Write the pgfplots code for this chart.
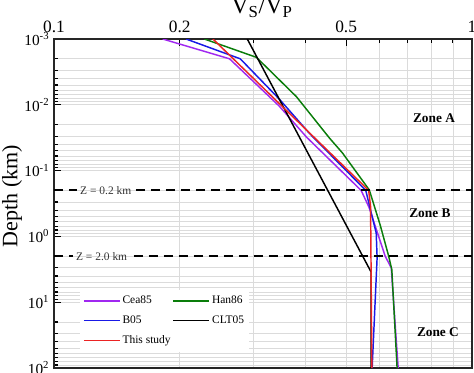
\documentclass[border=0pt]{standalone}
\usepackage{fontspec}
\setmainfont{Liberation Serif}
\usepackage{pgfplots}
\pgfplotsset{compat=1.18}
\definecolor{cpurple}{RGB}{160,40,240}
\definecolor{cblue}{RGB}{25,25,230}
\definecolor{cgreen}{RGB}{10,125,10}
\definecolor{cred}{RGB}{235,35,35}
\begin{document}
\begin{tikzpicture}
\begin{axis}[name=ax, at={(0pt,0pt)}, anchor=south west, scale only axis,
  width=313.5pt, height=246.75pt,
  xmode=log, ymode=log, y dir=reverse,
  xmin=0.1, xmax=1, ymin=1e-3, ymax=1e2,
  xtick={0.1,0.2,0.5,1}, xticklabels={0.1,0.2,0.5,1},
  minor xtick={0.3,0.4,0.6,0.7,0.8,0.9},
  ytick={1e-3,1e-2,1e-1,1,10,100},
  yticklabels={10\textsuperscript{-3},10\textsuperscript{-2},10\textsuperscript{-1},10\textsuperscript{0},10\textsuperscript{1},10\textsuperscript{2}},
  minor ytick={0.002,0.003,0.004,0.005,0.006,0.007,0.008,0.009,
    0.02,0.03,0.04,0.05,0.06,0.07,0.08,0.09,
    0.2,0.3,0.4,0.5,0.6,0.7,0.8,0.9,
    2,3,4,5,6,7,8,9,20,30,40,50,60,70,80,90},
  xtick pos=right, xticklabel pos=right, ytick pos=left,
  grid=both,
  major grid style={black!14, line width=0.5pt},
  minor grid style={black!14, line width=0.5pt},
  axis line style={line width=1.1pt, black!85},
  major tick length=5pt, minor tick length=3pt,
  tick style={line width=0.8pt, black},
  xticklabel style={font=\fontsize{13}{15}\selectfont, yshift=1pt},
  yticklabel style={font=\fontsize{11.5}{13}\selectfont},
  legend columns=2,
  legend cell align=left,
  legend style={at={(axis cs:0.1155,58)}, anchor=south west, fill=white, draw=none,
    font=\fontsize{8.6}{10}\selectfont, row sep=3.5pt, inner xsep=2pt, inner ysep=3pt,
    nodes={inner xsep=1.5pt}},
  legend image code/.code={\draw[#1] (0pt,0pt) -- (27pt,0pt);},
  every axis plot/.append style={line width=1.1pt},
]
\addplot[cpurple] coordinates {(0.182,0.001) (0.263,0.002) (0.346,0.0105) (0.402,0.031) (0.543,0.2) (0.567,0.36) (0.62,2.0) (0.641,3.0) (0.666,100)};
\addlegendentry{Cea85}
\addplot[cgreen] coordinates {(0.229,0.001) (0.305,0.0019) (0.38,0.0075) (0.456,0.032) (0.49,0.054) (0.568,0.197) (0.603,0.67) (0.632,2.0) (0.643,3.2) (0.662,100)};
\addlegendentry{Han86}
\addplot[cblue] coordinates {(0.207,0.001) (0.279,0.002) (0.346,0.0082) (0.408,0.027) (0.557,0.2) (0.59,0.89) (0.593,2.1) (0.577,100)};
\addlegendentry{B05}
\addplot[black] coordinates {(0.29,0.001) (0.574,3.5) (0.574,100)};
\addlegendentry{CLT05}
\addplot[cred] coordinates {(0.24,0.001) (0.566,0.2) (0.572,0.35) (0.576,100)};
\addlegendentry{This study}
% depth markers
\addplot[forget plot, black, line width=1.5pt, dash pattern=on 6.75pt off 4.5pt] coordinates {(0.1,0.2) (0.1135,0.2)};
\addplot[forget plot, black, line width=1.5pt, dash pattern=on 6.75pt off 4.5pt] coordinates {(0.157,0.2) (1,0.2)};
\addplot[forget plot, black, line width=1.5pt, dash pattern=on 6.75pt off 4.5pt] coordinates {(0.1,2) (0.111,2)};
\addplot[forget plot, black, line width=1.5pt, dash pattern=on 6.75pt off 4.5pt] coordinates {(0.155,2) (1,2)};
\node[font=\fontsize{8.6}{10}\selectfont, text=black!80] at (axis cs:0.133,0.2) {Z = 0.2 km};
\node[font=\fontsize{8.6}{10}\selectfont, text=black!80] at (axis cs:0.130,2) {Z = 2.0 km};
\node[font=\bfseries\fontsize{10}{12}\selectfont] at (axis cs:0.811,0.0158) {Zone A};
\node[font=\bfseries\fontsize{10}{12}\selectfont] at (axis cs:0.793,0.44) {Zone B};
\node[font=\bfseries\fontsize{10}{12}\selectfont] at (axis cs:0.829,28.4) {Zone C};
\end{axis}
\node[anchor=base, font=\fontsize{18}{20}\selectfont] at (156pt,265.5pt) {V\textsubscript{S}/V\textsubscript{P}};
\node[rotate=90, font=\fontsize{16.5}{18}\selectfont] at (-31.5pt,129pt) {Depth (km)};
\pgfresetboundingbox
\path[use as bounding box] (-40.5pt,-3pt) rectangle (315pt,276pt);
\end{tikzpicture}
\end{document}
